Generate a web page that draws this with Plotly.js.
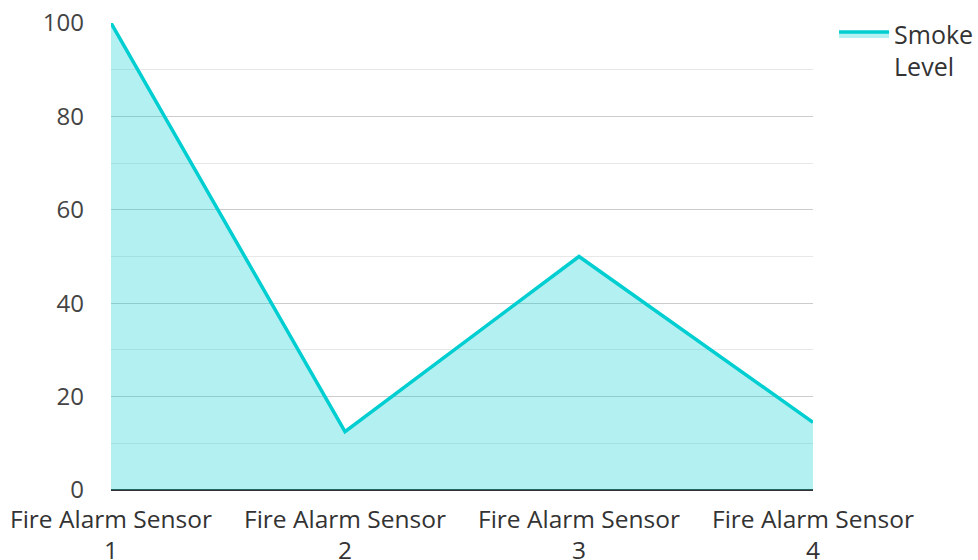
<!DOCTYPE html>
<html>
<head>
<meta charset="utf-8">
<script src="https://cdn.plot.ly/plotly-3.0.1.min.js"></script>
<style>html,body{margin:0;padding:0;background:#fff;}#chart{width:978px;height:560px;}</style>
</head>
<body>
<div id="chart"></div>
<script>
const categories = ["Fire Alarm Sensor<br>1", "Fire Alarm Sensor<br>2", "Fire Alarm Sensor<br>3", "Fire Alarm Sensor<br>4"];
const smokeLevel = [100, 12.5, 50, 14.5];
const seriesName = "Smoke<br>Level";
const yTicks = [0, 20, 40, 60, 80, 100];
const yMinorTicks = [10, 30, 50, 70, 90];

const trace = {
  x: categories,
  y: smokeLevel,
  name: seriesName,
  type: "scatter",
  mode: "lines",
  fill: "tozeroy",
  fillcolor: "rgba(0,206,209,0.3)",
  line: {color: "#00CED1", width: 3.5}
};

const layout = {
  width: 978,
  height: 560,
  margin: {l: 111, r: 165, t: 23, b: 70, autoexpand: false},
  paper_bgcolor: "#fff",
  plot_bgcolor: "#fff",
  font: {family: "Open Sans", size: 24, color: "#444"},
  showlegend: true,
  legend: {x: 1.03, y: 1.025, xanchor: "left", yanchor: "top", valign: "top", itemwidth: 50, font: {size: 25, color: "#333"}, bgcolor: "rgba(0,0,0,0)"},
  xaxis: {
    type: "category",
    range: [0, 3],
    showgrid: false,
    zeroline: false,
    showline: false,
    ticks: "",
    ticklabelstandoff: 12,
    tickfont: {size: 24.5, color: "#333"}
  },
  yaxis: {
    range: [0, 100],
    tickvals: yTicks,
    showgrid: true,
    gridcolor: "#cccccc",
    gridwidth: 1,
    zeroline: true,
    zerolinecolor: "#333",
    zerolinewidth: 2,
    showline: false,
    ticks: "",
    ticklabelstandoff: 26,
    tickfont: {size: 24, color: "#444"},
    minor: {tickvals: yMinorTicks, showgrid: true, gridcolor: "#e8e8e8", gridwidth: 1, ticks: ""}
  }
};

Plotly.newPlot("chart", [trace], layout, {displayModeBar: false, staticPlot: true});
</script>
</body>
</html>
